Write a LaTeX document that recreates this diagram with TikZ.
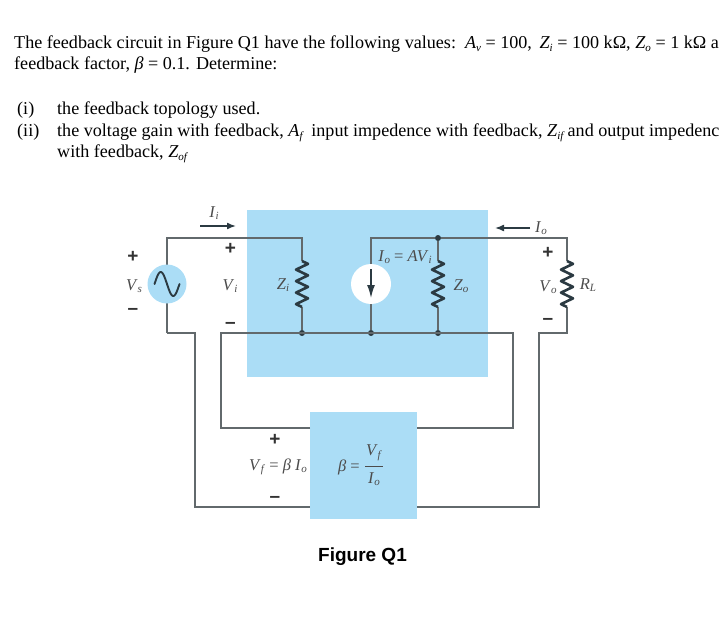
\documentclass[tikz,border=0pt]{standalone}
\usepackage{fontspec}
\setmainfont{Liberation Serif}
\newfontfamily\figfont{Liberation Sans}
\usetikzlibrary{arrows.meta,decorations.pathmorphing}
\definecolor{panelblue}{HTML}{ABDDF6}
\definecolor{wiregray}{HTML}{62696C}
\definecolor{inkdark}{HTML}{2B3A42}
\newcommand{\subt}[1]{\raisebox{-2.6pt}{\fontsize{11}{12}\selectfont\textit{#1}}}
\newcommand{\sym}[2]{\textit{#1}\subt{#2}}
\tikzset{
    panel/.style={fill=panelblue, draw=none, inner sep=0pt},
    wire/.style={draw=wiregray, line width=1.15pt},
    res/.style={draw=inkdark, line width=2.6pt, line join=round,
        decorate, decoration={zigzag, segment length=11.5pt, amplitude=6pt}},
    junction/.style={circle, fill=inkdark, inner sep=0pt, minimum size=6pt},
    para/.style={anchor=base west, inner sep=0pt, font=\fontsize{18.1}{20}\selectfont},
    lab/.style={inner sep=0pt, text=black!70, font=\fontsize{16.5}{18}\selectfont},
    sign/.style={inner sep=0pt, text=black!80, font=\figfont\fontsize{19}{20}\selectfont\bfseries},
    curarrow/.style={-{Latex[length=9pt,width=7pt]}, draw=inkdark, line width=1.6pt}
}
\begin{document}
\begin{tikzpicture}[x=1pt, y=-1pt]
\useasboundingbox (0,0) rectangle (720,631);
% question text
\node[para] (line1) at (14,48.5) {The feedback circuit in Figure Q1 have the following values: \,\sym{A}{v} = 100, \,\sym{Z}{i} = 100 kΩ, \sym{Z}{o} = 1 kΩ a};
\node[para] (line2) at (14,69.5) {feedback factor, \textit{β} = 0.1. Determine:};
\node[para] (itemi) at (17,114.5) {(i)};
\node[para] (textiA) at (57,114.5) {the feedback topology used.};
\node[para] (itemii) at (17,136.5) {(ii)};
\node[para] (textiiA) at (57,136.5) {the voltage gain with feedback, \sym{A}{f}\, input impedence with feedback, \sym{Z}{if}\,and output impedenc};
\node[para] (textiiB) at (57,157.5) {with feedback, \sym{Z}{of}};
% blocks
\node[panel, minimum width=241pt, minimum height=167pt] (amp) at (367.5,293.5) {};
\node[panel, minimum width=107pt, minimum height=107pt] (beta) at (363.5,465.5) {};
% corners and junctions
\coordinate (tl) at (167,238);
\coordinate (tr) at (567,238);
\coordinate (bl) at (167,333);
\coordinate (br) at (567,333);
\coordinate (zit) at (302,238);
\coordinate (sot) at (371,238);
\coordinate (ziA) at (302,261);
\coordinate (ziB) at (302,307);
\coordinate (zoA) at (438,261);
\coordinate (zoB) at (438,307);
\coordinate (rlA) at (567,261);
\coordinate (rlB) at (567,307);
\coordinate (outL) at (195,333);
\coordinate (inL) at (221,333);
\coordinate (inR) at (513,333);
\coordinate (outR) at (539,333);
\coordinate (inLb) at (221,428);
\coordinate (inRb) at (513,428);
\coordinate (outLb) at (195,507);
\coordinate (outRb) at (539,507);
\coordinate (betaIL) at (310,428);
\coordinate (betaIR) at (417,428);
\coordinate (betaOL) at (310,507);
\coordinate (betaOR) at (417,507);
\node[junction] (zib) at (302,333) {};
\node[junction] (sob) at (371,333) {};
\node[junction] (zob) at (438,333) {};
\node[junction] (zot) at (438,238) {};
% wires
\draw[wire] (bl) -- (tl) -- (zit) -- (ziA);
\draw[wire] (ziB) -- (zib);
\draw[wire] (sob) -- (sot) -- (zot) -- (tr) -- (rlA);
\draw[wire] (zot) -- (zoA);
\draw[wire] (zoB) -- (zob);
\draw[wire] (rlB) -- (br) -- (outR) -- (outRb) -- (betaOR);
\draw[wire] (bl) -- (outL) -- (outLb) -- (betaOL);
\draw[wire] (betaIL) -- (inLb) -- (inL) -- (inR) -- (inRb) -- (betaIR);
\draw[res] (ziA) -- (ziB);
\draw[res] (zoA) -- (zoB);
\draw[res] (rlA) -- (rlB);
% sources
\node[circle, fill=panelblue, minimum size=39pt, inner sep=0pt] (vs) at (167,284) {};
\draw[draw=inkdark, line width=1.9pt, line cap=round] plot[domain=-12.5:12.5, samples=40, smooth] (167+\x, {284+12*sin(\x*14.4)});
\node[circle, fill=white, minimum size=40pt, inner sep=0pt] (cs) at (371,284) {};
\coordinate (csA) at (371,269);
\coordinate (csB) at (371,298);
\draw[curarrow, -{Latex[length=13pt,width=8pt]}] (csA) -- (csB);
% current arrows
\coordinate (iiA) at (200,226);
\coordinate (iiB) at (236,226);
\coordinate (ioA) at (530,228);
\coordinate (ioB) at (495,228);
\draw[curarrow] (iiA) -- (iiB);
\draw[curarrow] (ioA) -- (ioB);
% labels
\node[lab] (ii) at (214,213) {\sym{I}{i}};
\node[lab] (io) at (541,228) {\sym{I}{o}};
\node[sign] (vsp) at (133,257) {+};
\node[lab] (vsl) at (134,286) {\sym{V}{s}};
\node[sign] (vsm) at (133,311) {–};
\node[sign] (vip) at (230.5,249) {+};
\node[lab] (vil) at (230,286) {\sym{V}{i}};
\node[sign] (vim) at (230.5,325) {–};
\node[lab] (zil) at (283,285) {\sym{Z}{i}};
\node[lab] (iol) at (405,257) {\sym{I}{o} = \textit{AV}\subt{i}};
\node[lab] (zol) at (461,286) {\sym{Z}{o}};
\node[sign] (vop) at (548,253) {+};
\node[lab] (vol) at (548,287) {\sym{V}{o}};
\node[sign] (vom) at (548,321) {–};
\node[lab] (rll) at (588,285) {\sym{R}{L}};
\node[sign] (vfp) at (275,440) {+};
\node[lab] (vfl) at (278,467) {\sym{V}{f} = \textit{β I}\subt{o}};
\node[sign] (vfm) at (275,499) {–};
\node[lab, anchor=east] (betal) at (360,467) {\textit{β} =};
\node[lab] (betan) at (374,453) {\sym{V}{f}};
\node[lab] (betad) at (374,479) {\sym{I}{o}};
\coordinate (barA) at (365,466);
\coordinate (barB) at (383,466);
\draw[draw=black!70, line width=0.9pt] (barA) -- (barB);
\node[inner sep=0pt, font=\figfont\fontsize{19}{21}\selectfont\bfseries] (fig) at (362.5,556.5) {Figure Q1};
\end{tikzpicture}
\end{document}
